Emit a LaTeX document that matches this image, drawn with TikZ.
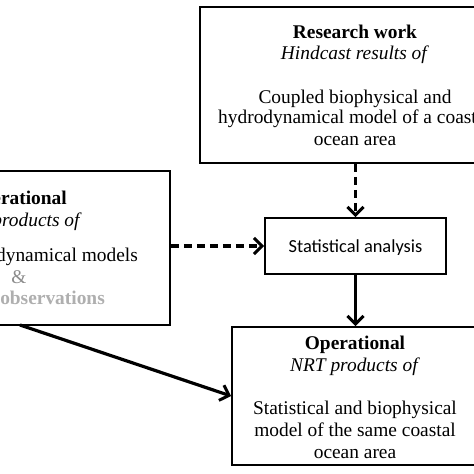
\documentclass[tikz,border=0pt]{standalone}
\usepackage{fontspec}
\setmainfont{Liberation Serif}
\newfontfamily\calib{Carlito}
\usetikzlibrary{arrows.meta}
\definecolor{ampgray}{RGB}{140,140,140}
\definecolor{obsgray}{RGB}{175,175,175}
\tikzset{
  box/.style={draw=black, line width=1.9pt, inner sep=0pt},
  txt/.style={inner sep=0pt, font=\fontsize{19.4}{21.5}\selectfont},
  conn/.style={line width=3.2pt, -{Straight Barb[length=8pt,width=16pt,line width=3pt]}},
  dconn/.style={conn, dash pattern=on 8pt off 5pt},
}
\begin{document}
\begin{tikzpicture}[x=1pt,y=-1pt]
\useasboundingbox (0,0) rectangle (474,474);
\clip (0,0) rectangle (474,474);
\fill[white] (0,0) rectangle (474,474);
% boxes
\node[box, minimum width=310pt, minimum height=156pt] (top) at (355,85) {};
\node[box, minimum width=300pt, minimum height=154pt] (left) at (20,248) {};
\node[box, minimum width=181pt, minimum height=56pt] (stat) at (355.5,246) {};
\node[box, minimum width=246pt, minimum height=138pt] (bot) at (355,396) {};
% top texts
\node[txt, anchor=base] (t1) at (355,38) {\textbf{Research work}};
\node[txt, anchor=base] (t2) at (355,59) {\textit{Hindcast results of}};
\node[txt, anchor=base] (t3) at (355,103) {Coupled biophysical and};
\node[txt, anchor=base west] (t4) at (218,123) {hydrodynamical model of a coastal};
\node[txt, anchor=base] (t5) at (355,145) {ocean area};
% left texts
\node[txt, anchor=base east] (l1) at (67,204) {\textbf{Operational}};
\node[txt, anchor=base east] (l2) at (82,226) {\textit{NRT products of}};
\node[txt, anchor=base east] (l3) at (138,261) {Coupled hydrodynamical models};
\node[txt, anchor=base, text=ampgray] (l4) at (19,283) {\&};
\node[txt, anchor=base east, text=obsgray] (l5) at (105,304) {\textbf{Satellite observations}};
% stat text
\node[inner sep=0pt, anchor=base, font=\calib\fontsize{18.4}{21}\selectfont] (s1) at (355.5,252) {Statistical analysis};
% bottom texts
\node[txt, anchor=base] (b1) at (355,349) {\textbf{Operational}};
\node[txt, anchor=base] (b2) at (355,371) {\textit{NRT products of}};
\node[txt, anchor=base] (b3) at (355,414) {Statistical and biophysical};
\node[txt, anchor=base] (b4) at (355,436) {model of the same coastal};
\node[txt, anchor=base] (b5) at (355,458) {ocean area};
% connectors
\draw[dconn] (top.south -| stat.north) -- (stat.north);
\draw[dconn] (left.east |- stat.west) -- (stat.west);
\draw[conn] (stat.south) -- (stat.south |- bot.north);
\coordinate (dstart) at (20,325);
\draw[conn] (dstart) -- (bot.west);
\end{tikzpicture}
\end{document}
